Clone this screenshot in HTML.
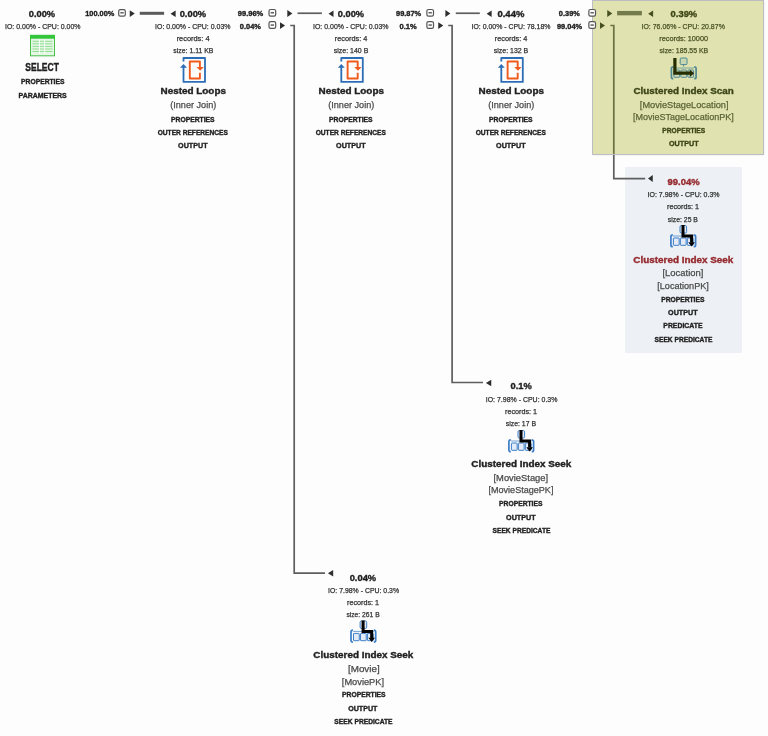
<!DOCTYPE html>
<html><head><meta charset="utf-8"><style>
html,body{margin:0;padding:0;}
body{width:768px;height:736px;overflow:hidden;background:#fdfdfd;position:relative;font-family:"Liberation Sans",sans-serif;}
.t{position:absolute;width:600px;height:20px;line-height:20px;text-align:center;white-space:nowrap;}
.t span{display:inline-block;-webkit-text-stroke:0.25px currentColor;}
.t.b span{-webkit-text-stroke:0.4px currentColor;}
#w{position:absolute;left:0;top:0;width:768px;height:736px;filter:blur(0.3px);}
.s{position:absolute;left:0;top:0;}
#hb,#ho,#hbd{position:absolute;left:592px;top:-0.2px;width:170.1px;height:153.1px;border:1.2px solid transparent;}
#hb{background:#fff7f1;}
#ho{background:rgba(142,171,0,0.27);}
#hbd{border-color:#bcbcc2;box-shadow:0.8px 0.8px 1.5px rgba(0,0,0,0.10);}
#gb{position:absolute;left:625px;top:166.5px;width:117px;height:186.2px;background:#edf1f5;border-radius:1px;}
</style></head><body><div id="w">
<div id="hb"></div>
<div id="gb"></div>
<svg class="s" width="768" height="736" viewBox="0 0 768 736"><rect x="118.69999999999999" y="9.6" width="6.600000000000011" height="6.499999999999999" rx="1.6" fill="#fff" stroke="#555" stroke-width="1.2"/><rect x="120.3" y="12.25" width="3.4" height="1.2" fill="#3a3a3a"/><polygon points="129.75,10.2 134.75,13.549999999999999 129.75,16.9" fill="#2e2e2e"/><line x1="139.75" y1="13.3" x2="164.1" y2="13.3" stroke="#5a5a5a" stroke-width="3.0"/><polygon points="175.6,10.4 170.5,13.649999999999999 175.6,16.9" fill="#2e2e2e"/><rect x="269.0" y="9.5" width="6.700000000000034" height="6.599999999999999" rx="1.6" fill="#fff" stroke="#555" stroke-width="1.2"/><rect x="270.65000000000003" y="12.200000000000001" width="3.4" height="1.2" fill="#3a3a3a"/><polygon points="287.3,10.0 292.4,13.45 287.3,16.9" fill="#2e2e2e"/><line x1="297.5" y1="13.25" x2="321.9" y2="13.25" stroke="#5e5e5e" stroke-width="1.7"/><polygon points="333.5,10.4 328.5,13.649999999999999 333.5,16.9" fill="#2e2e2e"/><rect x="269.0" y="21.700000000000003" width="6.700000000000034" height="6.699999999999998" rx="1.6" fill="#fff" stroke="#555" stroke-width="1.2"/><rect x="270.65000000000003" y="24.45" width="3.4" height="1.2" fill="#3a3a3a"/><polygon points="280.0,22.2 285.1,25.6 280.0,29.0" fill="#2e2e2e"/><polyline points="290.25,25.5 294.2,25.5 294.2,573.1 325.0,573.1" fill="none" stroke="#5e5e5e" stroke-width="1.7"/><polygon points="333.2,570.0 327.9,573.3 333.2,576.6" fill="#2e2e2e"/><rect x="426.85" y="9.5" width="6.650000000000023" height="6.599999999999999" rx="1.6" fill="#fff" stroke="#555" stroke-width="1.2"/><rect x="428.475" y="12.200000000000001" width="3.4" height="1.2" fill="#3a3a3a"/><polygon points="445.4,10.0 450.4,13.45 445.4,16.9" fill="#2e2e2e"/><line x1="455.75" y1="13.25" x2="479.8" y2="13.25" stroke="#5e5e5e" stroke-width="1.7"/><polygon points="491.6,10.4 486.6,13.649999999999999 491.6,16.9" fill="#2e2e2e"/><rect x="426.85" y="21.700000000000003" width="6.650000000000023" height="6.699999999999998" rx="1.6" fill="#fff" stroke="#555" stroke-width="1.2"/><rect x="428.475" y="24.45" width="3.4" height="1.2" fill="#3a3a3a"/><polygon points="438.25,22.2 443.25,25.6 438.25,29.0" fill="#2e2e2e"/><polyline points="448.25,25.5 452.1,25.5 452.1,382.5 483.0,382.5" fill="none" stroke="#5e5e5e" stroke-width="1.7"/><polygon points="491.25,379.75 485.9,383.0 491.25,386.25" fill="#2e2e2e"/><polygon points="607.25,10.0 612.25,13.45 607.25,16.9" fill="#2e2e2e"/><line x1="617.1" y1="13.15" x2="641.9" y2="13.15" stroke="#6a6a6a" stroke-width="4.4"/><polygon points="653.1,10.4 648.1,13.649999999999999 653.1,16.9" fill="#2e2e2e"/><polygon points="600.0,22.2 605.0,25.6 600.0,29.0" fill="#2e2e2e"/><polyline points="610.4,25.5 613.8,25.5 613.8,178.6 645.2,178.6" fill="none" stroke="#5e5e5e" stroke-width="1.7"/><polygon points="652.75,175.0 648.0,178.45 652.75,181.9" fill="#2e2e2e"/><path d="M183.5 61.4 V58 H205.0 V81.9 H183.5 V66.8" fill="none" stroke="#2c6db5" stroke-width="1.8" stroke-linejoin="round"/><polygon points="180.0,67.7 183.5,64.0 187.0,67.7" fill="#2c6db5"/><path d="M199.89999999999998 72.7 V78.5 H189.79999999999998 V61.5 H199.89999999999998 V67.5" fill="none" stroke="#ef5a1f" stroke-width="1.9" stroke-linejoin="round"/><polygon points="196.5,67.0 203.79999999999998,67.0 200.14999999999998,70.7" fill="#ef5a1f"/><path d="M341.3 61.4 V58 H362.8 V81.9 H341.3 V66.8" fill="none" stroke="#2c6db5" stroke-width="1.8" stroke-linejoin="round"/><polygon points="337.8,67.7 341.3,64.0 344.8,67.7" fill="#2c6db5"/><path d="M357.7 72.7 V78.5 H347.6 V61.5 H357.7 V67.5" fill="none" stroke="#ef5a1f" stroke-width="1.9" stroke-linejoin="round"/><polygon points="354.3,67.0 361.6,67.0 357.95,70.7" fill="#ef5a1f"/><path d="M501.3 61.4 V58 H522.8 V81.9 H501.3 V66.8" fill="none" stroke="#2c6db5" stroke-width="1.8" stroke-linejoin="round"/><polygon points="497.8,67.7 501.3,64.0 504.8,67.7" fill="#2c6db5"/><path d="M517.7 72.7 V78.5 H507.6 V61.5 H517.7 V67.5" fill="none" stroke="#ef5a1f" stroke-width="1.9" stroke-linejoin="round"/><polygon points="514.3,67.0 521.6,67.0 517.95,70.7" fill="#ef5a1f"/><rect x="30.5" y="35.4" width="24.0" height="20.4" fill="#e6f6e6" stroke="#46c046" stroke-width="1"/><rect x="30.0" y="34.9" width="25.0" height="3.8" fill="#33c63a"/><line x1="32.5" y1="41.3" x2="52.5" y2="41.3" stroke="#86dc86" stroke-width="0.9"/><line x1="32.5" y1="43.8" x2="52.5" y2="43.8" stroke="#86dc86" stroke-width="0.9"/><line x1="32.5" y1="46.4" x2="52.5" y2="46.4" stroke="#86dc86" stroke-width="0.9"/><line x1="32.5" y1="49.0" x2="52.5" y2="49.0" stroke="#86dc86" stroke-width="0.9"/><line x1="32.5" y1="51.5" x2="52.5" y2="51.5" stroke="#86dc86" stroke-width="0.9"/><line x1="39.5" y1="39.4" x2="39.5" y2="53.8" stroke="#fff" stroke-width="0.9"/><line x1="44.6" y1="39.4" x2="44.6" y2="53.8" stroke="#fff" stroke-width="0.9"/><rect x="680.0" y="225.5" width="6.6" height="7.6" rx="1.4" fill="#e2ebf7" stroke="#3d7ec8" stroke-width="1"/><path d="M672.8 234.8 Q670.9 234.8 670.9 236.6 V244.9 Q670.9 246.7 672.8 246.7" fill="none" stroke="#3d7ec8" stroke-width="1.7"/><path d="M693.7 234.8 Q695.6 234.8 695.6 236.6 V244.9 Q695.6 246.7 693.7 246.7" fill="none" stroke="#3d7ec8" stroke-width="1.7"/><line x1="673.0" y1="236.0" x2="693.5" y2="236.0" stroke="#3d7ec8" stroke-width="0.9" opacity="0.8"/><rect x="673.4" y="238.0" width="5.766666666666666" height="7.3" rx="0.6" fill="#e2ebf7" stroke="#3d7ec8" stroke-width="1"/><rect x="680.3666666666667" y="238.0" width="5.766666666666666" height="7.3" rx="0.6" fill="#e2ebf7" stroke="#3d7ec8" stroke-width="1"/><rect x="687.3333333333333" y="238.0" width="5.766666666666666" height="7.3" rx="0.6" fill="#e2ebf7" stroke="#3d7ec8" stroke-width="1"/><path d="M683.0 225.0 V236.0 H691.5999999999999 V242.6" fill="none" stroke="#000" stroke-width="3.0"/><polygon points="688.3,242.3 694.9,242.3 691.5999999999999,246.6" fill="#000"/><rect x="518.0" y="430.5" width="6.6" height="7.6" rx="1.4" fill="#e2ebf7" stroke="#3d7ec8" stroke-width="1"/><path d="M510.79999999999995 439.8 Q508.8999999999999 439.8 508.8999999999999 441.6 V449.9 Q508.8999999999999 451.7 510.79999999999995 451.7" fill="none" stroke="#3d7ec8" stroke-width="1.7"/><path d="M531.7 439.8 Q533.6 439.8 533.6 441.6 V449.9 Q533.6 451.7 531.7 451.7" fill="none" stroke="#3d7ec8" stroke-width="1.7"/><line x1="510.99999999999994" y1="441.0" x2="531.5" y2="441.0" stroke="#3d7ec8" stroke-width="0.9" opacity="0.8"/><rect x="511.4" y="443.0" width="5.766666666666685" height="7.3" rx="0.6" fill="#e2ebf7" stroke="#3d7ec8" stroke-width="1"/><rect x="518.3666666666667" y="443.0" width="5.766666666666685" height="7.3" rx="0.6" fill="#e2ebf7" stroke="#3d7ec8" stroke-width="1"/><rect x="525.3333333333334" y="443.0" width="5.766666666666685" height="7.3" rx="0.6" fill="#e2ebf7" stroke="#3d7ec8" stroke-width="1"/><path d="M521.0 430.0 V441.0 H529.5999999999999 V447.6" fill="none" stroke="#000" stroke-width="3.0"/><polygon points="526.3,447.3 532.9,447.3 529.5999999999999,451.6" fill="#000"/><rect x="360.09999999999997" y="620.9" width="6.6" height="7.6" rx="1.4" fill="#e2ebf7" stroke="#3d7ec8" stroke-width="1"/><path d="M352.9 630.1999999999999 Q350.99999999999994 630.1999999999999 350.99999999999994 632.0 V640.3 Q350.99999999999994 642.1 352.9 642.1" fill="none" stroke="#3d7ec8" stroke-width="1.7"/><path d="M373.79999999999995 630.1999999999999 Q375.7 630.1999999999999 375.7 632.0 V640.3 Q375.7 642.1 373.79999999999995 642.1" fill="none" stroke="#3d7ec8" stroke-width="1.7"/><line x1="353.09999999999997" y1="631.4" x2="373.59999999999997" y2="631.4" stroke="#3d7ec8" stroke-width="0.9" opacity="0.8"/><rect x="353.5" y="633.4" width="5.766666666666666" height="7.3" rx="0.6" fill="#e2ebf7" stroke="#3d7ec8" stroke-width="1"/><rect x="360.46666666666664" y="633.4" width="5.766666666666666" height="7.3" rx="0.6" fill="#e2ebf7" stroke="#3d7ec8" stroke-width="1"/><rect x="367.43333333333334" y="633.4" width="5.766666666666666" height="7.3" rx="0.6" fill="#e2ebf7" stroke="#3d7ec8" stroke-width="1"/><path d="M363.09999999999997 620.4 V631.4 H371.7 V638.0" fill="none" stroke="#000" stroke-width="3.0"/><polygon points="368.4,637.6999999999999 375.0,637.6999999999999 371.7,642.0" fill="#000"/><rect x="680.1999999999999" y="58.0" width="6.8" height="6.6" rx="1" fill="#dde8f5" stroke="#3b7cc6" stroke-width="1"/><line x1="683.5999999999999" y1="64.5" x2="683.5999999999999" y2="66.5" stroke="#3b7cc6" stroke-width="1"/><path d="M673.3 66.8 Q671.4 66.8 671.4 68.6 V76.9 Q671.4 78.7 673.3 78.7" fill="none" stroke="#3d7ec8" stroke-width="1.7"/><path d="M694.2 66.8 Q696.1 66.8 696.1 68.6 V76.9 Q696.1 78.7 694.2 78.7" fill="none" stroke="#3d7ec8" stroke-width="1.7"/><line x1="673.5" y1="68.0" x2="694.0" y2="68.0" stroke="#3d7ec8" stroke-width="0.9" opacity="0.8"/><rect x="673.9" y="70.0" width="5.766666666666666" height="7.3" rx="0.6" fill="#e2ebf7" stroke="#3d7ec8" stroke-width="1"/><rect x="680.8666666666667" y="70.0" width="5.766666666666666" height="7.3" rx="0.6" fill="#e2ebf7" stroke="#3d7ec8" stroke-width="1"/><rect x="687.8333333333333" y="70.0" width="5.766666666666666" height="7.3" rx="0.6" fill="#e2ebf7" stroke="#3d7ec8" stroke-width="1"/><path d="M674.9 58.0 V73.2 H690.3" fill="none" stroke="#000" stroke-width="3.2"/><polygon points="689.8,69.7 694.1999999999999,73.2 689.8,77.0" fill="#000"/></svg>
<div class="t b" style="left:-257.75px;top:3.80px;font-size:9.8px;font-weight:bold;color:#1f1f1f"><span style="transform:scaleX(0.9483)">0.00%</span></div><div class="t" style="left:-257.59px;top:16.96px;font-size:7.9px;font-weight:normal;color:#2e2e2e"><span style="transform:scaleX(0.8832)">IO: 0.00% - CPU: 0.00%</span></div><div class="t b" style="left:-257.73px;top:57.57px;font-size:10.2px;font-weight:bold;color:#1f1f1f"><span style="transform:scaleX(0.8341)">SELECT</span></div><div class="t b" style="left:-257.49px;top:72.23px;font-size:7.7px;font-weight:bold;color:#1f1f1f"><span style="transform:scaleX(0.8752)">PROPERTIES</span></div><div class="t b" style="left:-257.60px;top:85.93px;font-size:7.7px;font-weight:bold;color:#1f1f1f"><span style="transform:scaleX(0.9040)">PARAMETERS</span></div><div class="t b" style="left:-200.63px;top:4.43px;font-size:8.0px;font-weight:bold;color:#1f1f1f"><span style="transform:scaleX(0.9221)">100.00%</span></div><div class="t b" style="left:-49.77px;top:4.43px;font-size:8.0px;font-weight:bold;color:#1f1f1f"><span style="transform:scaleX(0.9363)">99.96%</span></div><div class="t b" style="left:-49.94px;top:16.93px;font-size:8.0px;font-weight:bold;color:#1f1f1f"><span style="transform:scaleX(0.9297)">0.04%</span></div><div class="t b" style="left:108.08px;top:4.43px;font-size:8.0px;font-weight:bold;color:#1f1f1f"><span style="transform:scaleX(0.9232)">99.87%</span></div><div class="t b" style="left:107.86px;top:16.93px;font-size:8.0px;font-weight:bold;color:#1f1f1f"><span style="transform:scaleX(0.9431)">0.1%</span></div><div class="t b" style="left:269.71px;top:4.43px;font-size:8.0px;font-weight:bold;color:#1f1f1f"><span style="transform:scaleX(0.9230)">0.39%</span></div><div class="t b" style="left:269.88px;top:16.93px;font-size:8.0px;font-weight:bold;color:#1f1f1f"><span style="transform:scaleX(0.9270)">99.04%</span></div><div class="t b" style="left:-106.85px;top:3.80px;font-size:9.8px;font-weight:bold;color:#1f1f1f"><span style="transform:scaleX(0.9519)">0.00%</span></div><div class="t" style="left:-106.99px;top:16.96px;font-size:7.9px;font-weight:normal;color:#2e2e2e"><span style="transform:scaleX(0.8814)">IO: 0.00% - CPU: 0.03%</span></div><div class="t" style="left:-106.94px;top:29.23px;font-size:7.7px;font-weight:normal;color:#2e2e2e"><span style="transform:scaleX(0.9632)">records: 4</span></div><div class="t" style="left:-106.71px;top:41.38px;font-size:7.7px;font-weight:normal;color:#2e2e2e"><span style="transform:scaleX(0.8981)">size: 1.11 KB</span></div><div class="t b" style="left:-106.94px;top:81.42px;font-size:9.75px;font-weight:bold;color:#1f1f1f"><span style="transform:scaleX(1.0145)">Nested Loops</span></div><div class="t" style="left:-106.81px;top:94.81px;font-size:9.2px;font-weight:normal;color:#4a4a4a"><span style="transform:scaleX(0.9902)">(Inner Join)</span></div><div class="t b" style="left:-106.89px;top:109.63px;font-size:7.7px;font-weight:bold;color:#1f1f1f"><span style="transform:scaleX(0.8782)">PROPERTIES</span></div><div class="t b" style="left:-106.81px;top:122.63px;font-size:7.7px;font-weight:bold;color:#1f1f1f"><span style="transform:scaleX(0.8617)">OUTER REFERENCES</span></div><div class="t b" style="left:-106.92px;top:136.03px;font-size:7.7px;font-weight:bold;color:#1f1f1f"><span style="transform:scaleX(0.9313)">OUTPUT</span></div><div class="t b" style="left:50.95px;top:3.80px;font-size:9.8px;font-weight:bold;color:#1f1f1f"><span style="transform:scaleX(0.9428)">0.00%</span></div><div class="t" style="left:50.81px;top:16.96px;font-size:7.9px;font-weight:normal;color:#2e2e2e"><span style="transform:scaleX(0.8832)">IO: 0.00% - CPU: 0.03%</span></div><div class="t" style="left:50.86px;top:29.23px;font-size:7.7px;font-weight:normal;color:#2e2e2e"><span style="transform:scaleX(0.9513)">records: 4</span></div><div class="t" style="left:51.09px;top:41.38px;font-size:7.7px;font-weight:normal;color:#2e2e2e"><span style="transform:scaleX(0.9093)">size: 140 B</span></div><div class="t b" style="left:50.86px;top:81.42px;font-size:9.75px;font-weight:bold;color:#1f1f1f"><span style="transform:scaleX(1.0145)">Nested Loops</span></div><div class="t" style="left:50.99px;top:94.81px;font-size:9.2px;font-weight:normal;color:#4a4a4a"><span style="transform:scaleX(0.9902)">(Inner Join)</span></div><div class="t b" style="left:50.91px;top:109.63px;font-size:7.7px;font-weight:bold;color:#1f1f1f"><span style="transform:scaleX(0.8782)">PROPERTIES</span></div><div class="t b" style="left:50.99px;top:122.63px;font-size:7.7px;font-weight:bold;color:#1f1f1f"><span style="transform:scaleX(0.8617)">OUTER REFERENCES</span></div><div class="t b" style="left:50.88px;top:136.03px;font-size:7.7px;font-weight:bold;color:#1f1f1f"><span style="transform:scaleX(0.9313)">OUTPUT</span></div><div class="t b" style="left:210.95px;top:3.80px;font-size:9.8px;font-weight:bold;color:#1f1f1f"><span style="transform:scaleX(0.9648)">0.44%</span></div><div class="t" style="left:210.81px;top:16.96px;font-size:7.9px;font-weight:normal;color:#2e2e2e"><span style="transform:scaleX(0.8772)">IO: 0.00% - CPU: 78.18%</span></div><div class="t" style="left:210.86px;top:29.23px;font-size:7.7px;font-weight:normal;color:#2e2e2e"><span style="transform:scaleX(0.9513)">records: 4</span></div><div class="t" style="left:211.09px;top:41.38px;font-size:7.7px;font-weight:normal;color:#2e2e2e"><span style="transform:scaleX(0.9040)">size: 132 B</span></div><div class="t b" style="left:210.86px;top:81.42px;font-size:9.75px;font-weight:bold;color:#1f1f1f"><span style="transform:scaleX(1.0145)">Nested Loops</span></div><div class="t" style="left:210.99px;top:94.81px;font-size:9.2px;font-weight:normal;color:#4a4a4a"><span style="transform:scaleX(0.9902)">(Inner Join)</span></div><div class="t b" style="left:210.91px;top:109.63px;font-size:7.7px;font-weight:bold;color:#1f1f1f"><span style="transform:scaleX(0.8782)">PROPERTIES</span></div><div class="t b" style="left:210.99px;top:122.63px;font-size:7.7px;font-weight:bold;color:#1f1f1f"><span style="transform:scaleX(0.8617)">OUTER REFERENCES</span></div><div class="t b" style="left:210.88px;top:136.03px;font-size:7.7px;font-weight:bold;color:#1f1f1f"><span style="transform:scaleX(0.9313)">OUTPUT</span></div><div class="t b" style="left:383.75px;top:3.80px;font-size:9.8px;font-weight:bold;color:#1f1f1f"><span style="transform:scaleX(0.9556)">0.39%</span></div><div class="t" style="left:383.60px;top:16.96px;font-size:7.9px;font-weight:normal;color:#2e2e2e"><span style="transform:scaleX(0.8841)">IO: 76.06% - CPU: 20.87%</span></div><div class="t" style="left:383.69px;top:29.23px;font-size:7.7px;font-weight:normal;color:#2e2e2e"><span style="transform:scaleX(0.9518)">records: 10000</span></div><div class="t" style="left:383.89px;top:41.38px;font-size:7.7px;font-weight:normal;color:#2e2e2e"><span style="transform:scaleX(0.9027)">size: 185.55 KB</span></div><div class="t b" style="left:383.90px;top:81.22px;font-size:9.75px;font-weight:bold;color:#1f1f1f"><span style="transform:scaleX(1.0105)">Clustered Index Scan</span></div><div class="t" style="left:383.79px;top:94.51px;font-size:9.2px;font-weight:normal;color:#4a4a4a"><span style="transform:scaleX(1.0033)">[MovieStageLocation]</span></div><div class="t" style="left:383.79px;top:106.71px;font-size:9.2px;font-weight:normal;color:#4a4a4a"><span style="transform:scaleX(0.9825)">[MovieSTageLocationPK]</span></div><div class="t b" style="left:383.71px;top:121.23px;font-size:7.7px;font-weight:bold;color:#1f1f1f"><span style="transform:scaleX(0.8649)">PROPERTIES</span></div><div class="t b" style="left:383.68px;top:134.43px;font-size:7.7px;font-weight:bold;color:#1f1f1f"><span style="transform:scaleX(0.9393)">OUTPUT</span></div><div class="t b" style="left:383.27px;top:171.95px;font-size:9.8px;font-weight:bold;color:#962a2f"><span style="transform:scaleX(0.9631)">99.04%</span></div><div class="t" style="left:383.10px;top:185.01px;font-size:7.9px;font-weight:normal;color:#2e2e2e"><span style="transform:scaleX(0.8879)">IO: 7.98% - CPU: 0.3%</span></div><div class="t" style="left:383.23px;top:197.43px;font-size:7.7px;font-weight:normal;color:#2e2e2e"><span style="transform:scaleX(0.9362)">records: 1</span></div><div class="t" style="left:383.39px;top:209.78px;font-size:7.7px;font-weight:normal;color:#2e2e2e"><span style="transform:scaleX(0.8911)">size: 25 B</span></div><div class="t b" style="left:383.08px;top:249.72px;font-size:9.75px;font-weight:bold;color:#962a2f"><span style="transform:scaleX(1.0135)">Clustered Index Seek</span></div><div class="t" style="left:383.29px;top:263.41px;font-size:9.2px;font-weight:normal;color:#4a4a4a"><span style="transform:scaleX(1.0252)">[Location]</span></div><div class="t" style="left:383.29px;top:275.81px;font-size:9.2px;font-weight:normal;color:#4a4a4a"><span style="transform:scaleX(0.9902)">[LocationPK]</span></div><div class="t b" style="left:383.21px;top:289.63px;font-size:7.7px;font-weight:bold;color:#1f1f1f"><span style="transform:scaleX(0.8721)">PROPERTIES</span></div><div class="t b" style="left:383.18px;top:302.83px;font-size:7.7px;font-weight:bold;color:#1f1f1f"><span style="transform:scaleX(0.9313)">OUTPUT</span></div><div class="t b" style="left:383.20px;top:316.23px;font-size:7.7px;font-weight:bold;color:#1f1f1f"><span style="transform:scaleX(0.8948)">PREDICATE</span></div><div class="t b" style="left:383.34px;top:329.53px;font-size:7.7px;font-weight:bold;color:#1f1f1f"><span style="transform:scaleX(0.8640)">SEEK PREDICATE</span></div><div class="t b" style="left:221.25px;top:376.45px;font-size:9.8px;font-weight:bold;color:#1f1f1f"><span style="transform:scaleX(0.9468)">0.1%</span></div><div class="t" style="left:221.11px;top:389.51px;font-size:7.9px;font-weight:normal;color:#2e2e2e"><span style="transform:scaleX(0.8835)">IO: 7.98% - CPU: 0.3%</span></div><div class="t" style="left:221.23px;top:401.93px;font-size:7.7px;font-weight:normal;color:#2e2e2e"><span style="transform:scaleX(0.9362)">records: 1</span></div><div class="t" style="left:221.39px;top:414.28px;font-size:7.7px;font-weight:normal;color:#2e2e2e"><span style="transform:scaleX(0.8956)">size: 17 B</span></div><div class="t b" style="left:221.08px;top:454.22px;font-size:9.75px;font-weight:bold;color:#1f1f1f"><span style="transform:scaleX(1.0135)">Clustered Index Seek</span></div><div class="t" style="left:221.29px;top:467.91px;font-size:9.2px;font-weight:normal;color:#4a4a4a"><span style="transform:scaleX(1.0186)">[MovieStage]</span></div><div class="t" style="left:221.29px;top:480.31px;font-size:9.2px;font-weight:normal;color:#4a4a4a"><span style="transform:scaleX(0.9861)">[MovieStagePK]</span></div><div class="t b" style="left:221.21px;top:494.43px;font-size:7.7px;font-weight:bold;color:#1f1f1f"><span style="transform:scaleX(0.8752)">PROPERTIES</span></div><div class="t b" style="left:221.18px;top:507.63px;font-size:7.7px;font-weight:bold;color:#1f1f1f"><span style="transform:scaleX(0.9313)">OUTPUT</span></div><div class="t b" style="left:221.34px;top:521.43px;font-size:7.7px;font-weight:bold;color:#1f1f1f"><span style="transform:scaleX(0.8640)">SEEK PREDICATE</span></div><div class="t b" style="left:63.35px;top:567.65px;font-size:9.8px;font-weight:bold;color:#1f1f1f"><span style="transform:scaleX(0.9501)">0.04%</span></div><div class="t" style="left:63.21px;top:580.71px;font-size:7.9px;font-weight:normal;color:#2e2e2e"><span style="transform:scaleX(0.8761)">IO: 7.98% - CPU: 0.3%</span></div><div class="t" style="left:63.33px;top:593.13px;font-size:7.7px;font-weight:normal;color:#2e2e2e"><span style="transform:scaleX(0.9347)">records: 1</span></div><div class="t" style="left:63.49px;top:605.48px;font-size:7.7px;font-weight:normal;color:#2e2e2e"><span style="transform:scaleX(0.8733)">size: 261 B</span></div><div class="t b" style="left:63.18px;top:645.42px;font-size:9.75px;font-weight:bold;color:#1f1f1f"><span style="transform:scaleX(1.0135)">Clustered Index Seek</span></div><div class="t" style="left:63.39px;top:659.11px;font-size:9.2px;font-weight:normal;color:#4a4a4a"><span style="transform:scaleX(1.0692)">[Movie]</span></div><div class="t" style="left:63.39px;top:671.51px;font-size:9.2px;font-weight:normal;color:#4a4a4a"><span style="transform:scaleX(1.0084)">[MoviePK]</span></div><div class="t b" style="left:63.31px;top:684.83px;font-size:7.7px;font-weight:bold;color:#1f1f1f"><span style="transform:scaleX(0.8782)">PROPERTIES</span></div><div class="t b" style="left:63.28px;top:698.53px;font-size:7.7px;font-weight:bold;color:#1f1f1f"><span style="transform:scaleX(0.9265)">OUTPUT</span></div><div class="t b" style="left:63.44px;top:711.53px;font-size:7.7px;font-weight:bold;color:#1f1f1f"><span style="transform:scaleX(0.8700)">SEEK PREDICATE</span></div>
<div id="ho"></div>
<div id="hbd"></div>
<svg class="s" width="768" height="736" viewBox="0 0 768 736"><rect x="588.85" y="9.5" width="6.650000000000023" height="6.599999999999999" rx="1.6" fill="#fff" stroke="#555" stroke-width="1.2"/><rect x="590.4749999999999" y="12.200000000000001" width="3.4" height="1.2" fill="#3a3a3a"/><rect x="588.85" y="21.700000000000003" width="6.650000000000023" height="6.699999999999998" rx="1.6" fill="#fff" stroke="#555" stroke-width="1.2"/><rect x="590.4749999999999" y="24.45" width="3.4" height="1.2" fill="#3a3a3a"/></svg>
</div></body></html>
